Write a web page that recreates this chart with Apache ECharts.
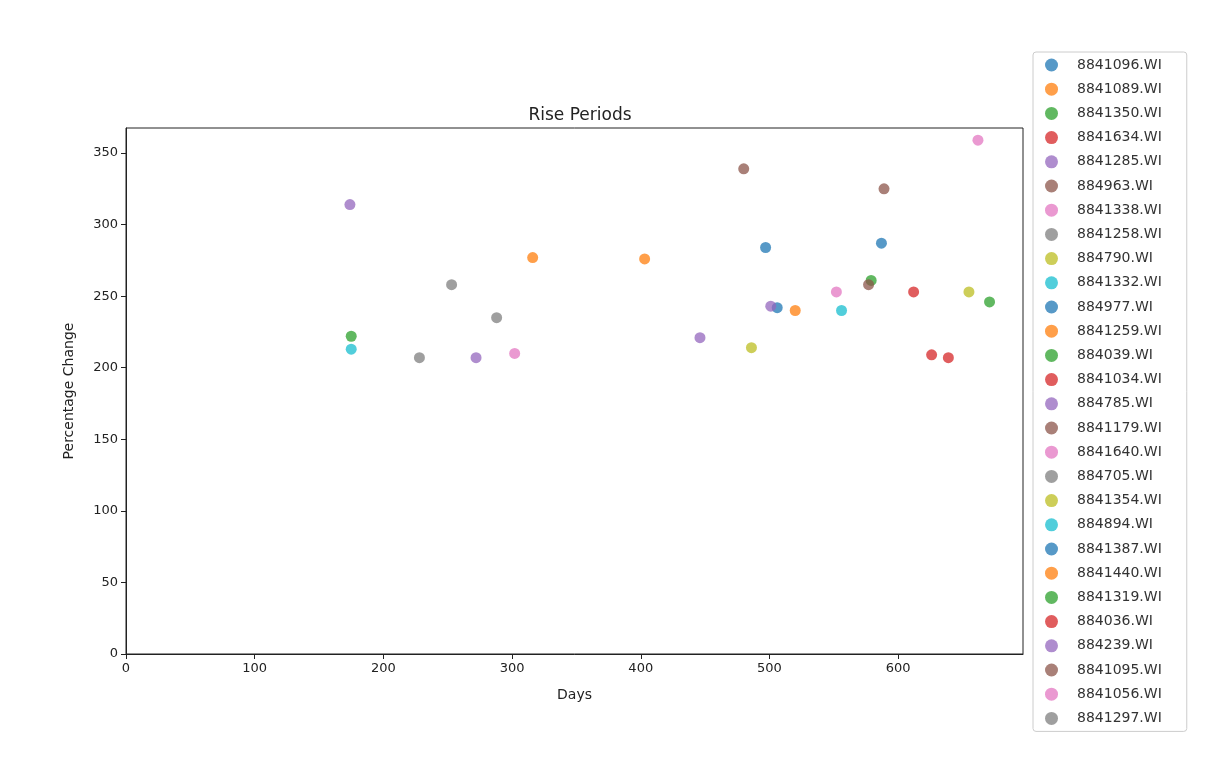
<!DOCTYPE html>
<html><head><meta charset="utf-8">
<script src="https://cdn.jsdelivr.net/npm/echarts@6/dist/echarts.min.js"></script>
<style>body{margin:0;background:#fff}#c{width:1228px;height:768px}</style></head>
<body><div id="c"></div>
<script>
const seriesNames = ["8841096.WI","8841089.WI","8841350.WI","8841634.WI","8841285.WI","884963.WI","8841338.WI","8841258.WI","884790.WI","8841332.WI","884977.WI","8841259.WI","884039.WI","8841034.WI","884785.WI","8841179.WI","8841640.WI","884705.WI","8841354.WI","884894.WI","8841387.WI","8841440.WI","8841319.WI","884036.WI","884239.WI","8841095.WI","8841056.WI","8841297.WI"];
const seriesPoints = [
 [[497,284]], [[316,277]], [[175,222]], [[612,253]], [[174,314]], [[480,339]], [[552,253]], [[253,258]], [[486,214]], [[175,213]],
 [[587,287]], [[403,276]], [[579,261]], [[626,209]], [[272,207],[446,221]], [[577,258]], [[662,359]], [[228,207]], [[655,253]], [[556,240]],
 [[506,242]], [[520,240]], [[671,246]], [[639,207]], [[501,243]], [[589,325]], [[302,210]], [[288,235]]
];
const xTicks = [0,100,200,300,400,500,600];
const yTicks = [0,50,100,150,200,250,300,350];
const colors = ['#1f77b4','#ff7f0e','#2ca02c','#d62728','#9467bd','#8c564b','#e377c2','#7f7f7f','#bcbd22','#17becf'];
const chart = echarts.init(document.getElementById('c'));
const axText = {fontSize:13,color:'#222',fontFamily:'DejaVu Sans'};
chart.setOption({
 animation:false,
 title:{text:'Rise Periods',left:575,top:102,textAlign:'center',textStyle:{fontSize:17,fontWeight:'normal',color:'#222',fontFamily:'DejaVu Sans'}},
 legend:{orient:'vertical',left:1033,top:52,padding:[6,25,6,12],itemGap:10.2,itemWidth:13,itemHeight:13,icon:'circle',
   borderColor:'#ccc',borderWidth:1,borderRadius:3,textStyle:{fontSize:14,color:'#333',fontFamily:'DejaVu Sans',padding:[0,0,0,14]},
   data:seriesNames},
 grid:{left:126,right:205,top:128,bottom:114},
 xAxis:{type:'value',min:0,max:697,name:'Days',nameLocation:'middle',nameGap:34,
   nameTextStyle:{fontSize:14,color:'#222',fontFamily:'DejaVu Sans'},
   axisLine:{show:true,lineStyle:{color:'#222'}},axisTick:{show:true,customValues:xTicks,lineStyle:{color:'#222'}},
   axisLabel:Object.assign({customValues:xTicks},axText),splitLine:{show:false}},
 yAxis:{type:'value',min:0,max:367.5,name:'Percentage Change',nameLocation:'middle',nameGap:50,
   nameTextStyle:{fontSize:14,color:'#222',fontFamily:'DejaVu Sans'},
   axisLine:{show:true,lineStyle:{color:'#222'}},axisTick:{show:true,customValues:yTicks,lineStyle:{color:'#222'}},
   axisLabel:Object.assign({customValues:yTicks},axText),splitLine:{show:false}},
 series:seriesNames.map((n,i)=>({name:n,type:'scatter',data:seriesPoints[i],symbolSize:11,
   itemStyle:{color:colors[i%10],opacity:0.75}})),
 graphic:[{type:'rect',shape:{x:126,y:128,width:897,height:526},style:{fill:'none',stroke:'#222',lineWidth:1}}]
});
</script></body></html>
